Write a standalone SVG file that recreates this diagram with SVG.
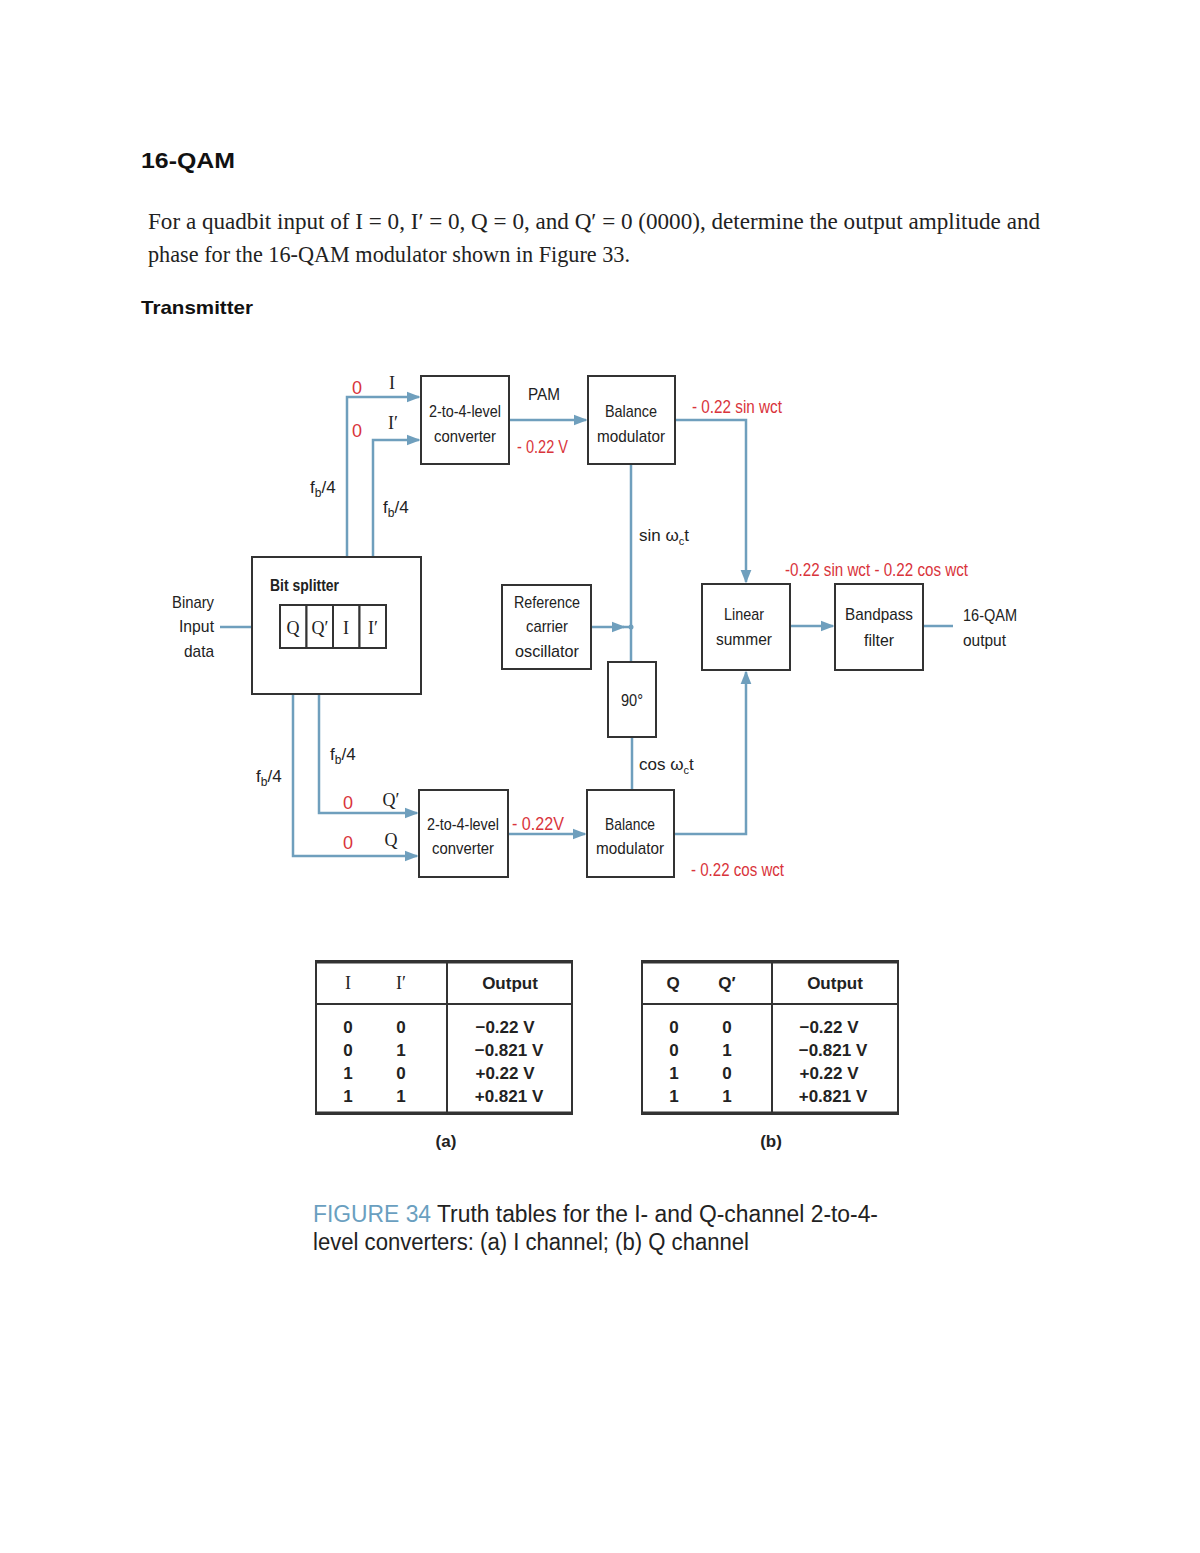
<svg xmlns="http://www.w3.org/2000/svg" width="1200" height="1553" viewBox="0 0 1200 1553">
<defs>
<marker id="ah" viewBox="0 0 10 10" refX="9" refY="5" markerWidth="5.5" markerHeight="5.5" orient="auto">
<path d="M0,1 L10,5 L0,9 z" fill="#6f9fbd"/>
</marker>
<style>
.box{fill:#fff;stroke:#333;stroke-width:2}
.ln{fill:none;stroke:#6f9fbd;stroke-width:2.5}
.t{font-family:"Liberation Sans",Arial,sans-serif;font-size:17px;fill:#222}
.c{text-anchor:middle}
.r{font-family:"Liberation Sans",Arial,sans-serif;font-size:18px;fill:#d9343b}
.s{font-family:"Liberation Serif","Times New Roman",serif;font-size:18px;fill:#222}
.tb{font-family:"Liberation Sans",Arial,sans-serif;font-size:17px;fill:#222;font-weight:bold}
.hd{font-family:"Liberation Sans",Arial,sans-serif;font-weight:bold;fill:#111}
.body{font-family:"Liberation Serif","Times New Roman",serif;font-size:24px;fill:#222}
</style>
</defs>
<rect width="1200" height="1553" fill="#fff"/>

<text class="hd" x="141" y="168" font-size="22" textLength="94" lengthAdjust="spacingAndGlyphs">16-QAM</text>
<text class="body" x="148" y="229" textLength="892" lengthAdjust="spacingAndGlyphs">For a quadbit input of I = 0, I′ = 0, Q = 0, and Q′ = 0 (0000), determine the output amplitude and</text>
<text class="body" x="148" y="262" textLength="482" lengthAdjust="spacingAndGlyphs">phase for the 16-QAM modulator shown in Figure 33.</text>
<text class="hd" x="141" y="314" font-size="19" textLength="112" lengthAdjust="spacingAndGlyphs">Transmitter</text>

<g id="connectors">
<path class="ln" d="M220,627 H277" marker-end="url(#ah)"/>
<path class="ln" d="M347,605 V397 H419" marker-end="url(#ah)"/>
<path class="ln" d="M373,605 V440 H419" marker-end="url(#ah)"/>
<path class="ln" d="M293,648 V856 H417" marker-end="url(#ah)"/>
<path class="ln" d="M319,648 V813 H417" marker-end="url(#ah)"/>
<path class="ln" d="M509,420 H586" marker-end="url(#ah)"/>
<path class="ln" d="M675,420 H746 V582" marker-end="url(#ah)"/>
<path class="ln" d="M631,464 V662"/>
<path class="ln" d="M591,627 H624" marker-end="url(#ah)"/>
<path class="ln" d="M623,627 H631"/>
<circle cx="631" cy="627" r="2.5" fill="#6f9fbd"/>
<path class="ln" d="M632,737 V790"/>
<path class="ln" d="M508,834 H585" marker-end="url(#ah)"/>
<path class="ln" d="M674,834 H746 V672" marker-end="url(#ah)"/>
<path class="ln" d="M790,626 H833" marker-end="url(#ah)"/>
<path class="ln" d="M923,626 H953"/>
</g>

<g id="input-label">
<text class="t" x="214" y="608" text-anchor="end" textLength="42" lengthAdjust="spacingAndGlyphs">Binary</text>
<text class="t" x="214" y="632" text-anchor="end" textLength="35" lengthAdjust="spacingAndGlyphs">Input</text>
<text class="t" x="214" y="657" text-anchor="end" textLength="30" lengthAdjust="spacingAndGlyphs">data</text>
</g>

<g id="bit-splitter">
<rect class="box" x="252" y="557" width="169" height="137"/>
<text class="tb" x="270" y="591" textLength="69" lengthAdjust="spacingAndGlyphs">Bit splitter</text>
<rect class="box" x="280" y="605" width="26.5" height="43"/>
<rect class="box" x="306.5" y="605" width="26.5" height="43"/>
<rect class="box" x="333" y="605" width="26.5" height="43"/>
<rect class="box" x="359.5" y="605" width="26.5" height="43"/>
<text class="s c" x="293" y="634">Q</text>
<text class="s c" x="320" y="634">Q′</text>
<text class="s c" x="346" y="634">I</text>
<text class="s c" x="373" y="634">I′</text>
</g>

<g id="signal-labels">
<text class="r c" x="357" y="394">0</text>
<text class="s c" x="392" y="389">I</text>
<text class="r c" x="357" y="437">0</text>
<text class="s c" x="393" y="429">I′</text>
<text class="t" x="310" y="493">f<tspan font-size="12" dy="4">b</tspan><tspan dy="-4">/4</tspan></text>
<text class="t" x="383" y="513">f<tspan font-size="12" dy="4">b</tspan><tspan dy="-4">/4</tspan></text>
<text class="t" x="330" y="760">f<tspan font-size="12" dy="4">b</tspan><tspan dy="-4">/4</tspan></text>
<text class="t" x="256" y="782">f<tspan font-size="12" dy="4">b</tspan><tspan dy="-4">/4</tspan></text>
<text class="r c" x="348" y="809">0</text>
<text class="s c" x="391" y="806">Q′</text>
<text class="r c" x="348" y="849">0</text>
<text class="s c" x="391" y="846">Q</text>
<text class="t c" x="544" y="400" textLength="32" lengthAdjust="spacingAndGlyphs">PAM</text>
<text class="r" x="517" y="453" textLength="51" lengthAdjust="spacingAndGlyphs">- 0.22 V</text>
<text class="r" x="692" y="413" textLength="90" lengthAdjust="spacingAndGlyphs">- 0.22 sin wct</text>
<text class="t" x="639" y="541">sin ω<tspan font-size="11" dy="4">c</tspan><tspan dy="-4">t</tspan></text>
<text class="t" x="639" y="770">cos ω<tspan font-size="11" dy="4">c</tspan><tspan dy="-4">t</tspan></text>
<text class="r" x="785" y="576" textLength="183" lengthAdjust="spacingAndGlyphs">-0.22 sin wct - 0.22 cos wct</text>
<text class="r" x="512" y="830" textLength="52" lengthAdjust="spacingAndGlyphs">- 0.22V</text>
<text class="r" x="691" y="876" textLength="93" lengthAdjust="spacingAndGlyphs">- 0.22 cos wct</text>
<text class="t" x="963" y="621" textLength="54" lengthAdjust="spacingAndGlyphs">16-QAM</text>
<text class="t" x="963" y="646" textLength="43" lengthAdjust="spacingAndGlyphs">output</text>
</g>

<g id="converter-i">
<rect class="box" x="421" y="376" width="88" height="88"/>
<text class="t c" x="465" y="417" textLength="72" lengthAdjust="spacingAndGlyphs">2-to-4-level</text>
<text class="t c" x="465" y="442" textLength="62" lengthAdjust="spacingAndGlyphs">converter</text>
</g>

<g id="balance-modulator-i">
<rect class="box" x="588" y="376" width="87" height="88"/>
<text class="t c" x="631" y="417" textLength="52" lengthAdjust="spacingAndGlyphs">Balance</text>
<text class="t c" x="631" y="442" textLength="68" lengthAdjust="spacingAndGlyphs">modulator</text>
</g>

<g id="reference-oscillator">
<rect class="box" x="502" y="585" width="89" height="84"/>
<text class="t c" x="547" y="608" textLength="66" lengthAdjust="spacingAndGlyphs">Reference</text>
<text class="t c" x="547" y="632" textLength="42" lengthAdjust="spacingAndGlyphs">carrier</text>
<text class="t c" x="547" y="657" textLength="64" lengthAdjust="spacingAndGlyphs">oscillator</text>
</g>

<g id="phase-shift">
<rect class="box" x="608" y="662" width="48" height="75" stroke-width="2.5"/>
<text class="t c" x="632" y="706" textLength="22" lengthAdjust="spacingAndGlyphs">90°</text>
</g>

<g id="linear-summer">
<rect class="box" x="702" y="584" width="88" height="86"/>
<text class="t c" x="744" y="620" textLength="40" lengthAdjust="spacingAndGlyphs">Linear</text>
<text class="t c" x="744" y="645" textLength="56" lengthAdjust="spacingAndGlyphs">summer</text>
</g>

<g id="bandpass-filter">
<rect class="box" x="835" y="584" width="88" height="86"/>
<text class="t c" x="879" y="620" textLength="68" lengthAdjust="spacingAndGlyphs">Bandpass</text>
<text class="t c" x="879" y="646" textLength="30" lengthAdjust="spacingAndGlyphs">filter</text>
</g>

<g id="converter-q">
<rect class="box" x="419" y="790" width="89" height="87"/>
<text class="t c" x="463" y="830" textLength="72" lengthAdjust="spacingAndGlyphs">2-to-4-level</text>
<text class="t c" x="463" y="854" textLength="62" lengthAdjust="spacingAndGlyphs">converter</text>
</g>

<g id="balance-modulator-q">
<rect class="box" x="587" y="790" width="87" height="87"/>
<text class="t c" x="630" y="830" textLength="50" lengthAdjust="spacingAndGlyphs">Balance</text>
<text class="t c" x="630" y="854" textLength="68" lengthAdjust="spacingAndGlyphs">modulator</text>
</g>

<g id="table-a">
<rect x="316" y="961" width="256" height="153" fill="#fff" stroke="#333" stroke-width="2"/>
<line x1="316" y1="962" x2="572" y2="962" stroke="#333" stroke-width="3"/>
<line x1="316" y1="1113" x2="572" y2="1113" stroke="#333" stroke-width="3"/>
<line x1="316" y1="1004" x2="572" y2="1004" stroke="#333" stroke-width="2"/>
<line x1="447" y1="961" x2="447" y2="1114" stroke="#333" stroke-width="2"/>
<text class="s c" x="348" y="989">I</text>
<text class="s c" x="401" y="989">I′</text>
<text class="tb c" x="510" y="989">Output</text>
<text class="tb c" x="348" y="1033">0</text><text class="tb c" x="401" y="1033">0</text><text class="tb c" x="505" y="1033">−0.22 V</text>
<text class="tb c" x="348" y="1056">0</text><text class="tb c" x="401" y="1056">1</text><text class="tb c" x="509" y="1056">−0.821 V</text>
<text class="tb c" x="348" y="1079">1</text><text class="tb c" x="401" y="1079">0</text><text class="tb c" x="505" y="1079">+0.22 V</text>
<text class="tb c" x="348" y="1102">1</text><text class="tb c" x="401" y="1102">1</text><text class="tb c" x="509" y="1102">+0.821 V</text>
<text class="tb c" x="446" y="1147">(a)</text>
</g>

<g id="table-b">
<rect x="642" y="961" width="256" height="153" fill="#fff" stroke="#333" stroke-width="2"/>
<line x1="642" y1="962" x2="898" y2="962" stroke="#333" stroke-width="3"/>
<line x1="642" y1="1113" x2="898" y2="1113" stroke="#333" stroke-width="3"/>
<line x1="642" y1="1004" x2="898" y2="1004" stroke="#333" stroke-width="2"/>
<line x1="772" y1="961" x2="772" y2="1114" stroke="#333" stroke-width="2"/>
<text class="tb c" x="673" y="989">Q</text>
<text class="tb c" x="727" y="989">Q′</text>
<text class="tb c" x="835" y="989">Output</text>
<text class="tb c" x="674" y="1033">0</text><text class="tb c" x="727" y="1033">0</text><text class="tb c" x="829" y="1033">−0.22 V</text>
<text class="tb c" x="674" y="1056">0</text><text class="tb c" x="727" y="1056">1</text><text class="tb c" x="833" y="1056">−0.821 V</text>
<text class="tb c" x="674" y="1079">1</text><text class="tb c" x="727" y="1079">0</text><text class="tb c" x="829" y="1079">+0.22 V</text>
<text class="tb c" x="674" y="1102">1</text><text class="tb c" x="727" y="1102">1</text><text class="tb c" x="833" y="1102">+0.821 V</text>
<text class="tb c" x="771" y="1147">(b)</text>
</g>

<g id="caption">
<text x="313" y="1222" font-family="Liberation Sans, Arial, sans-serif" font-size="23" textLength="565" lengthAdjust="spacingAndGlyphs"><tspan fill="#6a9fc0">FIGURE 34</tspan><tspan fill="#222">   Truth tables for the I- and Q-channel 2-to-4-</tspan></text>
<text x="313" y="1250" font-family="Liberation Sans, Arial, sans-serif" font-size="23" fill="#222" textLength="436" lengthAdjust="spacingAndGlyphs">level converters: (a) I channel; (b) Q channel</text>
</g>
</svg>
